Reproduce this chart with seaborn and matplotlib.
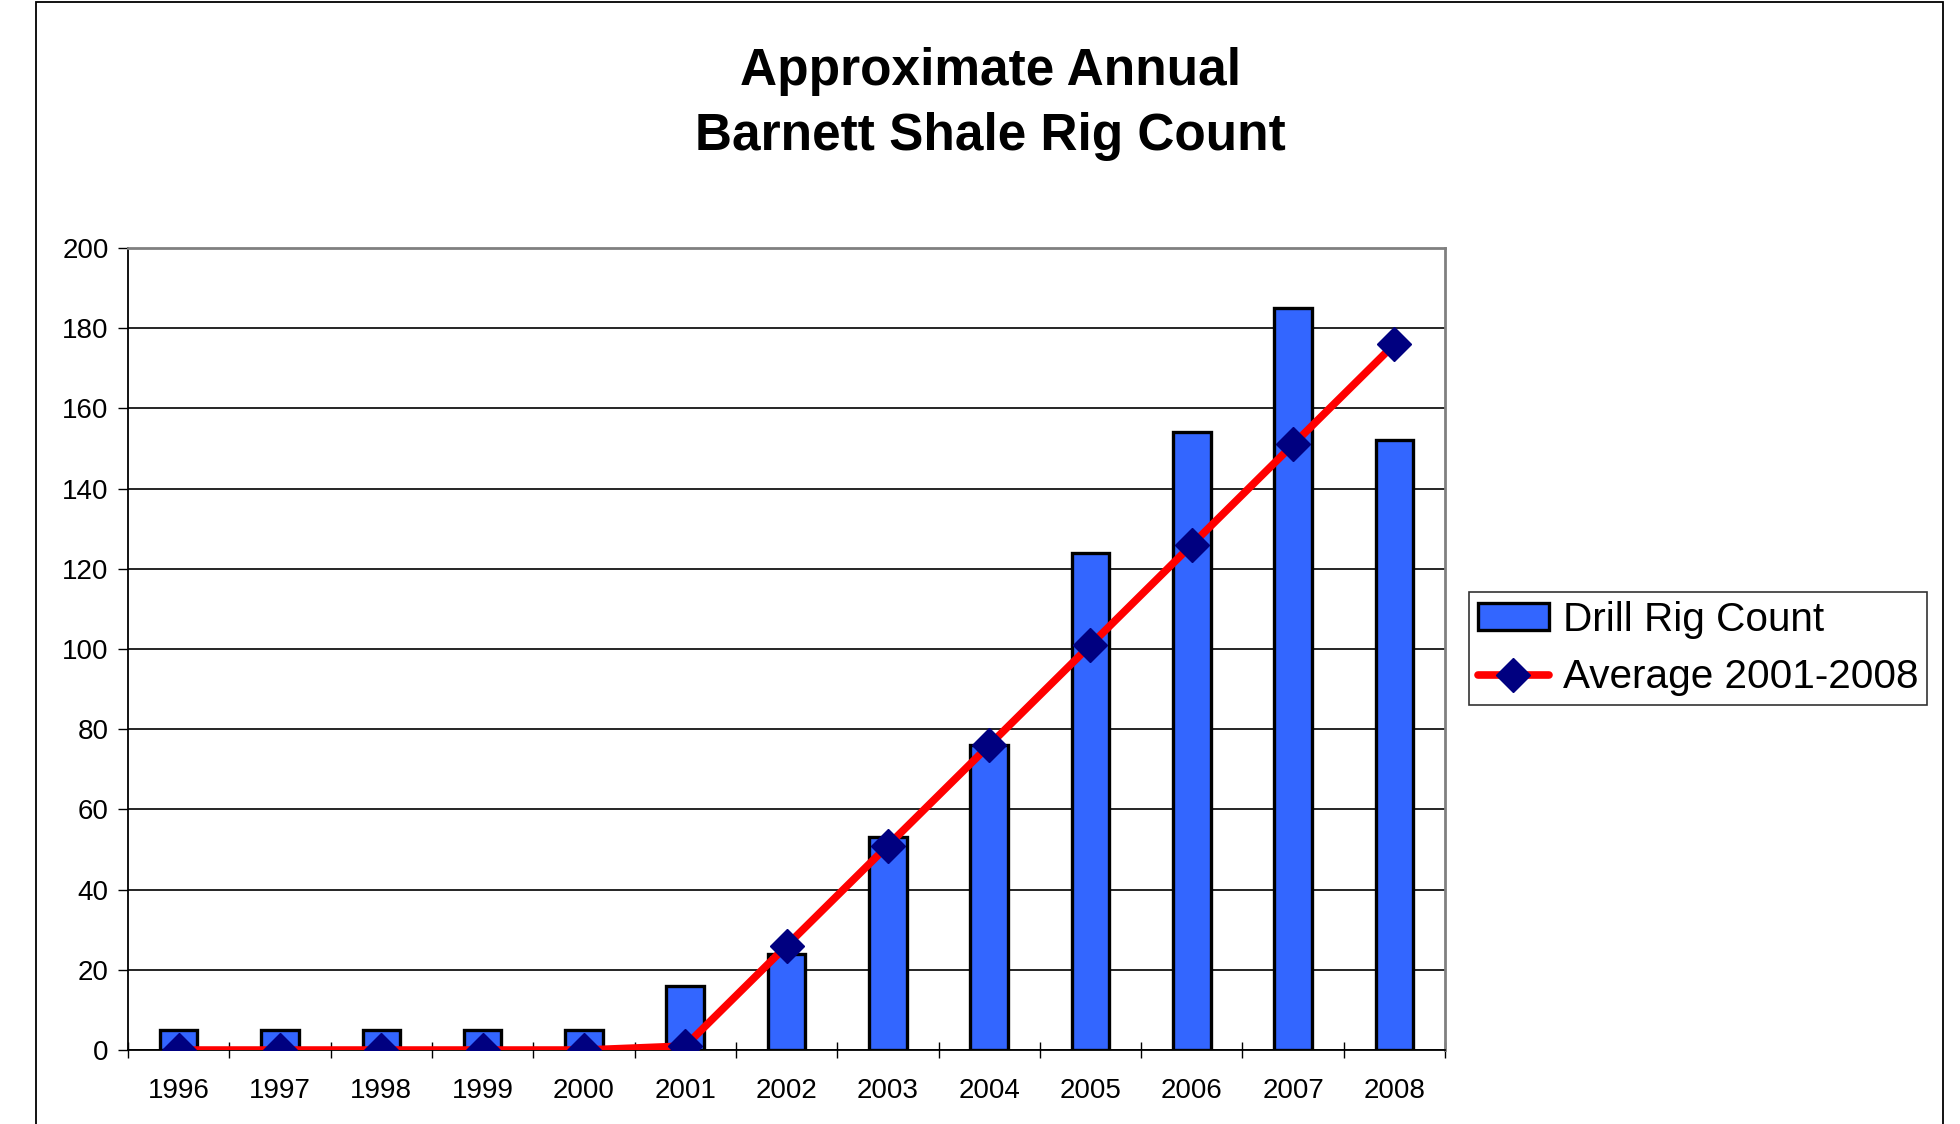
import numpy as np
import pandas as pd
import matplotlib
matplotlib.use("Agg")
import matplotlib.pyplot as plt
import seaborn as sns
from matplotlib.patches import Rectangle

years = ["1996", "1997", "1998", "1999", "2000", "2001", "2002",
         "2003", "2004", "2005", "2006", "2007", "2008"]
rig_count = [5, 5, 5, 5, 5, 16, 24, 53, 76, 124, 154, 185, 152]
average = [0, 0, 0, 0, 0, 1, 26, 51, 76, 101, 126, 151, 176]
yticks = [0, 20, 40, 60, 80, 100, 120, 140, 160, 180, 200]
title = "Approximate Annual\nBarnett Shale Rig Count"
bar_label = "Drill Rig Count"
line_label = "Average 2001-2008"

sns.set_style("white")
plt.rcParams["font.family"] = ["Liberation Sans", "DejaVu Sans"]
plt.rcParams["text.color"] = "black"
plt.rcParams["xtick.color"] = "black"
plt.rcParams["ytick.color"] = "black"

df = pd.DataFrame({"year": years, "count": rig_count, "avg": average})

fig = plt.figure(figsize=(19.6, 11.24), dpi=100)
ax = fig.add_axes([0.0653, 0.0658, 0.672, 0.7136])

sns.barplot(data=df, x="year", y="count", ax=ax, color="#3366FF",
            saturation=1, width=0.37, edgecolor="black", linewidth=2.4,
            label=bar_label, zorder=3)

pos = np.arange(len(years))
ax.plot(pos, df["avg"], color="#FF0000", lw=5.5, marker="D", ms=17,
        markerfacecolor="#000080", markeredgecolor="#000080",
        label=line_label, zorder=4, solid_capstyle="round")

ax.set_xlim(-0.5, len(years) - 0.5)
ax.set_ylim(0, 200)
ax.set_yticks(yticks)
ax.set_xlabel("")
ax.set_ylabel("")

ax.yaxis.grid(True, color="black", lw=1.2, zorder=0)
ax.set_axisbelow(True)

ax.tick_params(axis="y", direction="out", length=7, width=1, color="black",
               labelsize=20, pad=7, left=True, labelcolor="black")
ax.tick_params(axis="x", which="major", length=0, labelsize=20, pad=20,
               labelcolor="black")
ax.set_xticks(np.arange(-0.5, len(years)), minor=True)
ax.tick_params(axis="x", which="minor", direction="inout", length=11,
               width=1, color="black", bottom=True)

for side in ["left", "bottom"]:
    ax.spines[side].set_color("black")
    ax.spines[side].set_linewidth(1.3)
for side in ["top", "right"]:
    ax.spines[side].set_visible(True)
    ax.spines[side].set_color("#808080")
    ax.spines[side].set_linewidth(2)

fig.text(0.5055, 0.958, title, ha="center", va="top", fontsize=37,
         fontweight="bold", linespacing=1.41, color="black")

handles, labels = ax.get_legend_handles_labels()
order = [labels.index(bar_label), labels.index(line_label)]
leg = ax.legend([handles[i] for i in order], [labels[i] for i in order],
                loc="upper left", bbox_to_anchor=(0.7495, 0.4733),
                bbox_transform=fig.transFigure, fontsize=29.2,
                frameon=True, fancybox=False, edgecolor="black",
                handlelength=1.75, handleheight=0.65, borderpad=0.21,
                labelspacing=0.49, handletextpad=0.35, borderaxespad=0)
leg.get_frame().set_linewidth(1.2)
for t in leg.get_texts():
    t.set_color("black")

fig.patches.append(Rectangle((36 / 1960, -0.05), (1943 - 36) / 1960,
                             1.05 - 1.5 / 1124, transform=fig.transFigure,
                             fill=False, edgecolor="black", lw=1.3))

fig.savefig("out.png", dpi=100, facecolor="white")
